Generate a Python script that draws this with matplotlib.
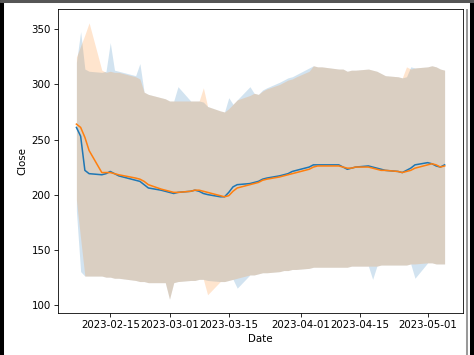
import matplotlib
matplotlib.use("Agg")
import matplotlib.pyplot as plt
import matplotlib.patches as patches
import pandas as pd

# trading days shown on the chart (Presidents Day and Good Friday closed)
dates = pd.bdate_range("2023-02-07", "2023-05-05", freq="C",
                       holidays=["2023-02-20", "2023-04-07"])

# mean line of each series
blue_mean = [261, 253, 222, 219, 218, 219, 221, 219, 217, 213, 212, 209, 206, 204, 203,
             202, 201, 202, 203, 204, 203, 201, 200, 198, 198, 202, 207, 209, 210, 211,
             212, 214, 215, 217, 218, 219, 221, 222,
             225, 227, 227, 227, 227, 225, 223, 224, 225, 226, 225, 224, 223, 222,
             221, 220, 222, 224, 227,
             229, 228, 226, 225, 227]
orange_mean = [264, 261, 252, 240, 220, 220, 220, 219, 218, 215, 214, 212, 209, 205, 204,
               203, 202, 202, 203, 204, 204, 203, 202, 199, 198, 199, 203, 206, 209, 210,
               211, 213, 214, 216, 217, 218, 219, 220,
               223, 225, 226, 226, 226, 225, 224, 224, 225, 225, 224, 223, 222, 222,
               221, 220, 221, 222, 224,
               227, 228, 227, 225, 226]

# band limits
blue_hi = [320, 348, 314, 312, 311, 312, 338, 313, 312, 308, 319, 293, 291, 288, 287,
           285, 285, 298, 285, 285, 285, 284, 280, 276, 275, 288, 282, 286, 298, 292,
           291, 295, 297, 302, 304, 306, 307, 309,
           315, 317, 316, 316, 314, 314, 312, 313, 313, 314, 313, 312, 310, 308,
           307, 306, 307, 316, 315,
           316, 317, 316, 314, 313]
orange_hi = [325, 335, 345, 356, 313, 311, 312, 311, 311, 307, 305, 293, 291, 288, 287,
             285, 285, 285, 285, 285, 285, 297, 280, 276, 275, 278, 282, 286, 290, 292,
             291, 294, 296, 300, 302, 304, 305, 307,
             312, 317, 316, 316, 314, 314, 312, 313, 313, 314, 313, 312, 310, 308,
             307, 306, 316, 314, 315,
             316, 317, 316, 314, 313]
blue_lo = [185, 130, 126, 126, 126, 125, 125, 124, 124, 122, 121, 121, 120, 120, 120,
           105, 120, 121, 122, 122, 123, 123, 122, 121, 121, 122, 123, 115, 127, 127,
           128, 129, 129, 130, 131, 131, 132, 132,
           133, 134, 134, 134, 134, 134, 134, 135, 135, 135, 123, 135, 136, 136,
           136, 136, 136, 137, 124,
           138, 138, 137, 137, 137]
orange_lo = [195, 160, 126, 126, 126, 125, 125, 124, 124, 122, 121, 121, 120, 120, 120,
             105, 120, 121, 122, 122, 123, 123, 109, 121, 121, 122, 123, 124, 127, 127,
             128, 129, 129, 130, 131, 131, 132, 132,
             133, 134, 134, 134, 134, 134, 134, 135, 135, 135, 135, 135, 136, 136,
             136, 136, 136, 137, 137,
             138, 138, 137, 137, 137]

series = [
    (blue_mean, blue_lo, blue_hi, "#1f77b4"),
    (orange_mean, orange_lo, orange_hi, "#ff7f0e"),
]

fig = plt.figure(figsize=(474 / 74, 355 / 74), dpi=74)
ax = fig.add_axes([58 / 474, 1 - 313 / 355, (463 - 58) / 474, (313 - 9) / 355])

for mean, lo, hi, col in series:
    ax.plot(dates, mean, color=col, linewidth=1.5)
    ax.fill_between(dates, lo, hi, color=col, alpha=0.2, linewidth=0)

ax.set_xlabel("Date")
ax.set_ylabel("Close")
ax.set_yticks([100, 150, 200, 250, 300, 350])

# screenshot frame around the figure
fig.patches.append(patches.Rectangle((0, 0), 3 / 474, 1, transform=fig.transFigure,
                                     color="black", zorder=10))
fig.patches.append(patches.Rectangle((470 / 474, 0), 4 / 474, 1, transform=fig.transFigure,
                                     color="black", zorder=10))
fig.patches.append(patches.Rectangle((0, 1 - 2 / 355), 1, 2 / 355, transform=fig.transFigure,
                                     color="#555555", zorder=10))
fig.patches.append(patches.Rectangle((465.5 / 474, 0), 1 / 474, 1 - 9 / 355,
                                     transform=fig.transFigure, color="#999999", zorder=10))

fig.savefig("out.png", dpi=74)
